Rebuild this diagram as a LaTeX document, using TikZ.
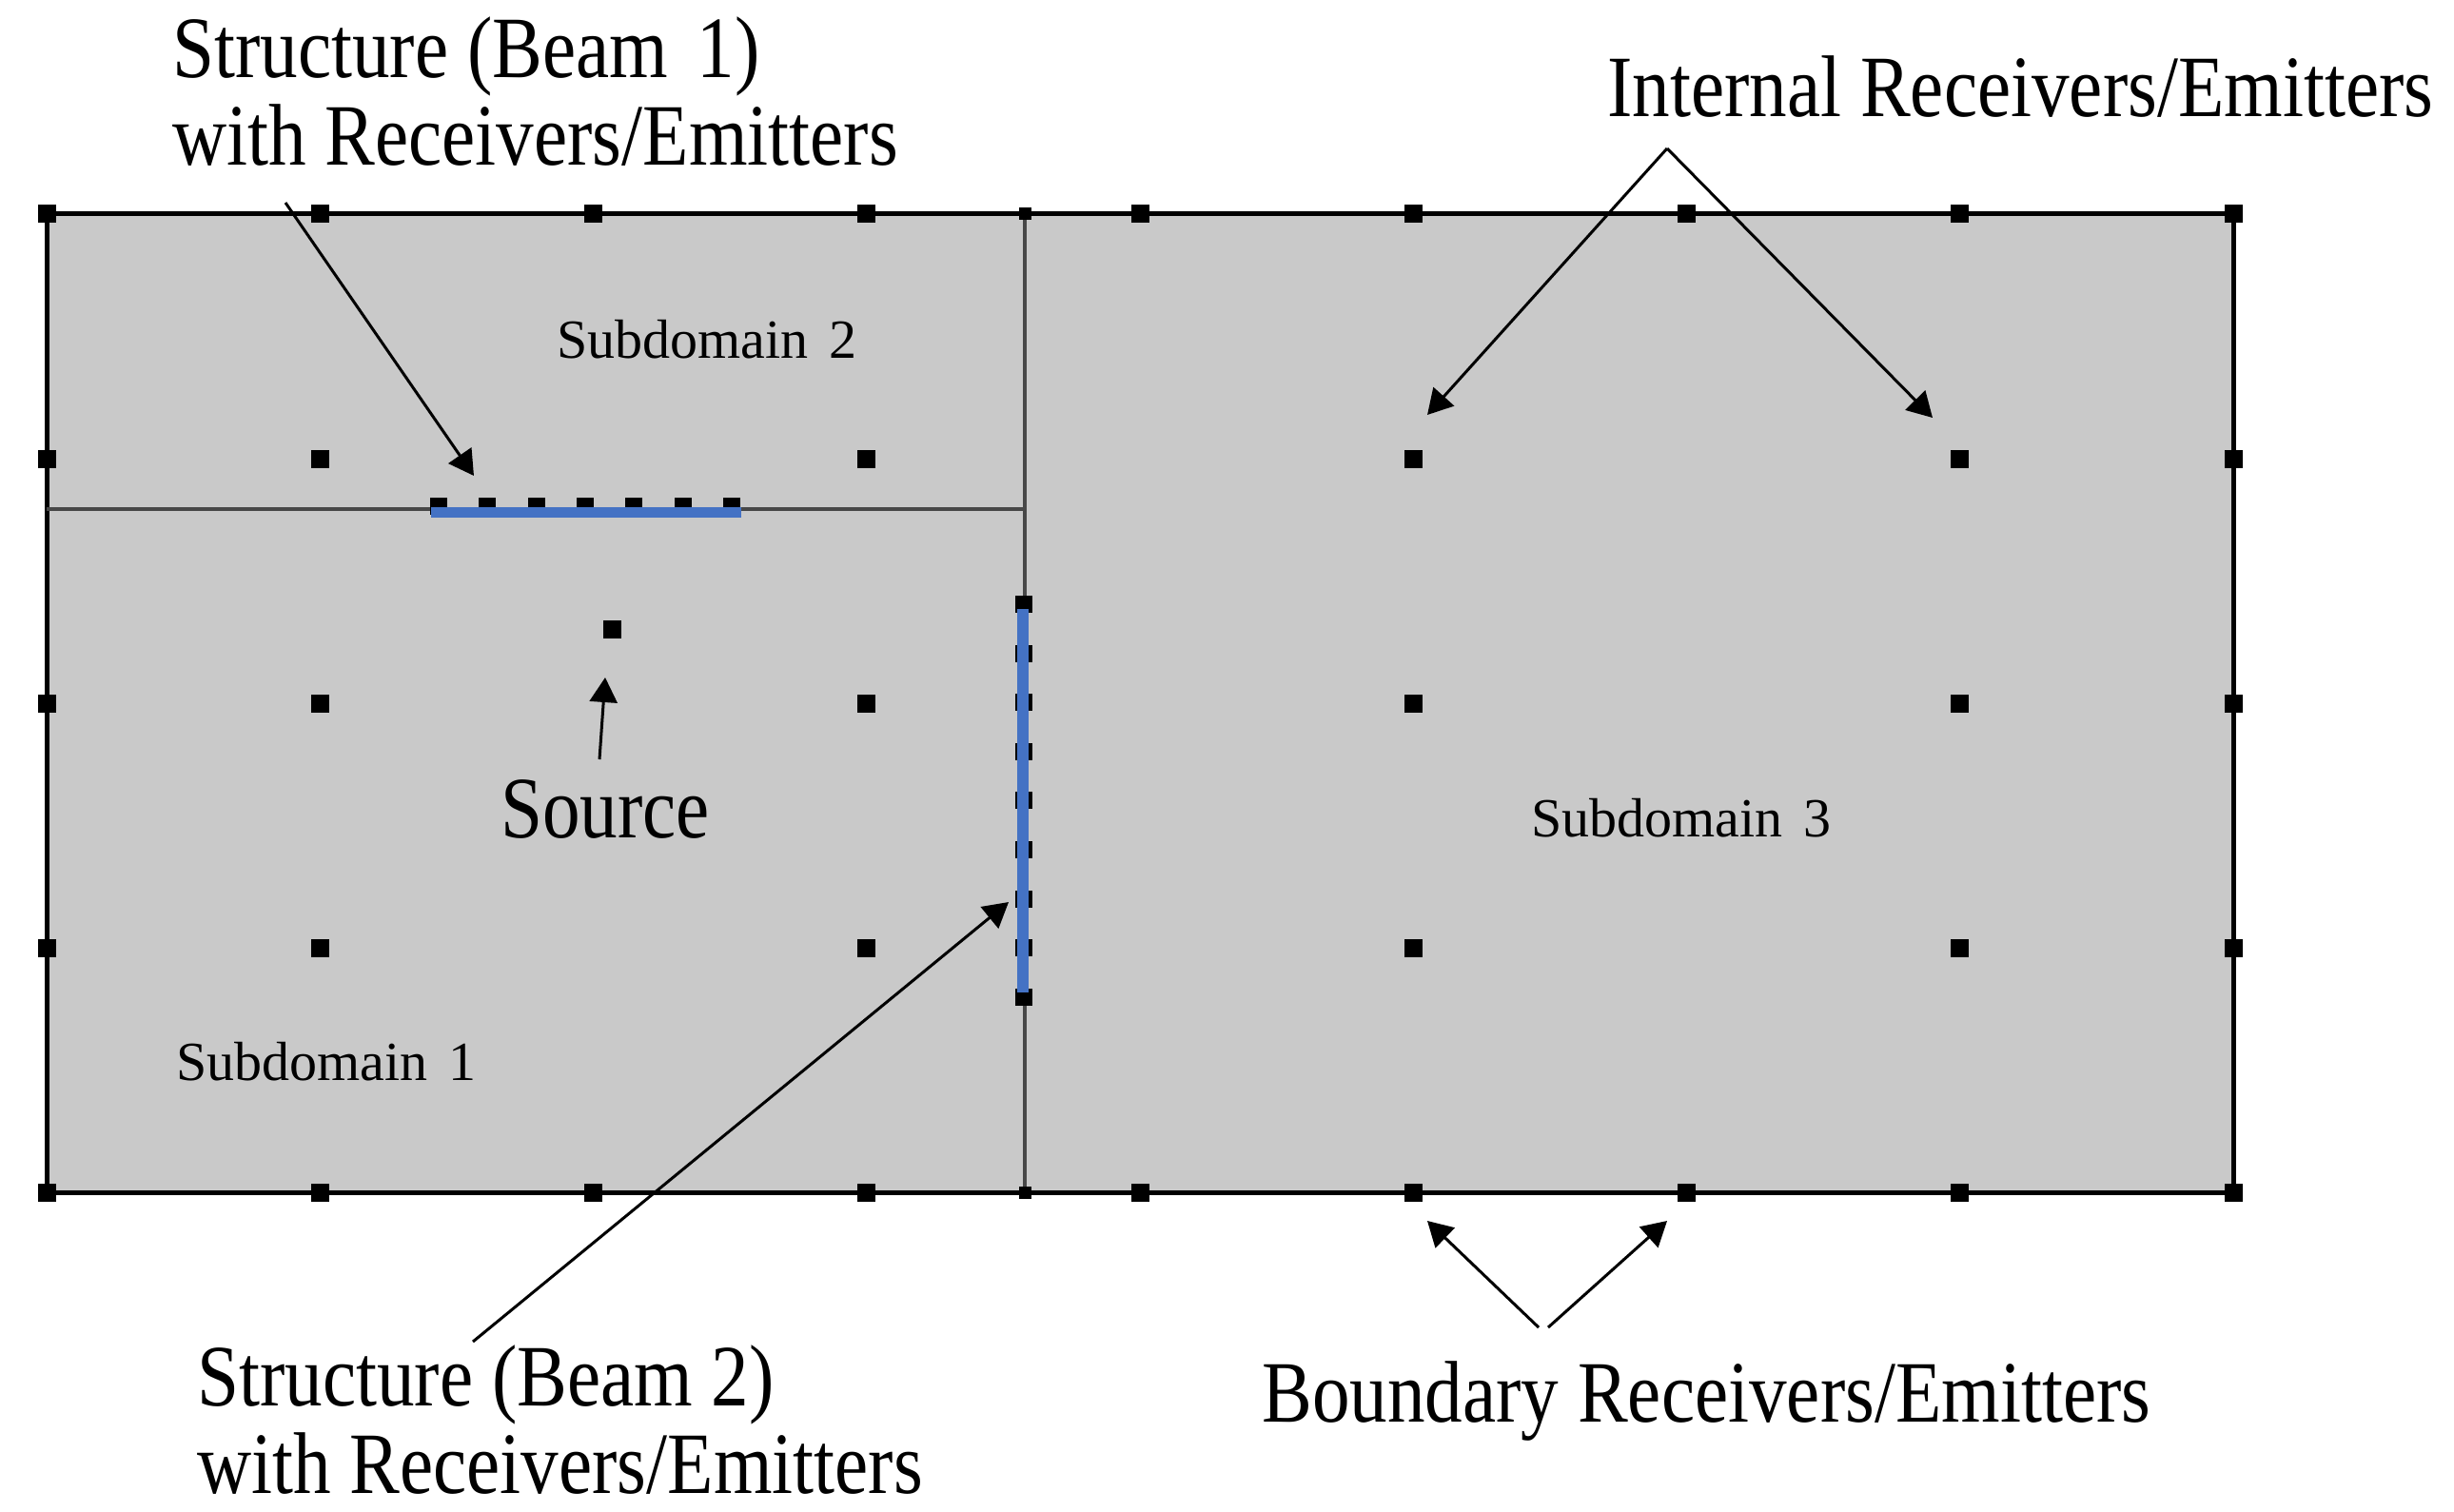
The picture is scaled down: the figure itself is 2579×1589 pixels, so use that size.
\documentclass[tikz,border=0pt]{standalone}
\usepackage{fontspec}
\setmainfont{Liberation Serif}
\newfontfamily\condfont[FakeStretch=0.86]{Liberation Serif}
\usetikzlibrary{arrows.meta}
\definecolor{domfill}{RGB}{201,201,201}
\definecolor{beamblue}{RGB}{68,114,196}
\begin{document}
\begin{tikzpicture}[x=0.5pt,y=-0.5pt,
  dot/.style={rectangle,fill=black,minimum size=9.5pt,inner sep=0pt,outer sep=0pt},
  smalldot/.style={rectangle,fill=black,minimum size=6.5pt,inner sep=0pt,outer sep=0pt},
  beamdot/.style={rectangle,fill=black,minimum size=9pt,inner sep=0pt,outer sep=0pt},
  divider/.style={draw=black!72,line width=2pt},
  beam/.style={draw=beamblue,line width=5.75pt,line cap=butt},
  arr/.style={-{Triangle[length=13pt,width=14.5pt]},line width=1.5pt},
  biglbl/.style={anchor=base west,inner sep=0pt,font={\condfont\fontsize{46}{46}\selectfont}},
  sublbl/.style={anchor=base west,inner sep=0pt,font={\fontsize{29}{30}\selectfont}}]
\useasboundingbox (0,0) rectangle (2579,1589);
% domain
\draw[fill=domfill,line width=2.5pt] (49,225) rectangle (2347,1253);
\draw[divider] (1077,225) -- (1077,1253);
\draw[divider] (49,535) -- (1077,535);
% grid dots, top and bottom rows
\foreach \i in {0,...,8} {
  \node[dot] (t\i) at ({49+287.25*\i},225) {};
  \node[dot] (b\i) at ({49+287.25*\i},1253) {};
}
\node[smalldot] (tmid) at (1077,225) {};
\node[smalldot] (bmid) at (1077,1253) {};
% interior rows
\foreach \r/\yy in {1/482,2/739,3/996} {
  \foreach \i in {0,1,3,5,7,8} {
    \node[dot] (r\r c\i) at ({49+287.25*\i},\yy) {};
  }
}
% source
\node[dot] (src) at (643,661) {};
% beam 1
\foreach \k in {0,...,6} {
  \node[beamdot] (bm1d\k) at ({461+51.3*\k},532) {};
}
\draw[beam] (453,538.5) -- (779,538.5);
% beam 2
\foreach \k in {0,...,8} {
  \node[beamdot] (bm2d\k) at (1076,{635+51.6*\k}) {};
}
\draw[beam] (1075,640) -- (1075,1043);
% labels
\node[biglbl] (lb1a) at (181,82) {Structure (Beam\hspace{0.12em} 1)};
\node[biglbl] (lb1b) at (181,174) {with Receivers/Emitters};
\node[biglbl] (lint) at (1689,123) {Internal Receivers/Emitters};
\node[sublbl] (sd2) at (585,376) {Subdomain\hspace{0.12em} 2};
\node[sublbl] (sd1) at (185,1135) {Subdomain\hspace{0.12em} 1};
\node[sublbl] (sd3) at (1609,879) {Subdomain\hspace{0.12em} 3};
\node[biglbl] (lsrc) at (526,880) {Source};
\node[biglbl] (lb2a) at (207,1477) {Structure (Beam 2)};
\node[biglbl] (lb2b) at (207,1569) {with Receivers/Emitters};
\node[biglbl] (lbnd) at (1326,1494) {Boundary Receivers/Emitters};
% arrow end points
\coordinate (a1s) at (300,213);
\coordinate (a1e) at (498,500);
\coordinate (srcs) at (630,798);
\coordinate (srce) at (636,712);
\coordinate (intapex) at (1752,156);
\coordinate (intl) at (1500,436);
\coordinate (intr) at (2031,439);
\coordinate (bndl0) at (1617,1395);
\coordinate (bndr0) at (1627,1395);
\coordinate (bndl) at (1500,1283);
\coordinate (bndr) at (1752,1283);
\coordinate (a2s) at (497,1410);
\coordinate (a2e) at (1060,948);
% arrows
\draw[arr] (a1s) -- (a1e);
\draw[arr] (srcs) -- (srce);
\draw[arr] (intapex) -- (intl);
\draw[arr] (intapex) -- (intr);
\draw[arr] (bndl0) -- (bndl);
\draw[arr] (bndr0) -- (bndr);
\draw[arr] (a2s) -- (a2e);
\end{tikzpicture}
\end{document}
